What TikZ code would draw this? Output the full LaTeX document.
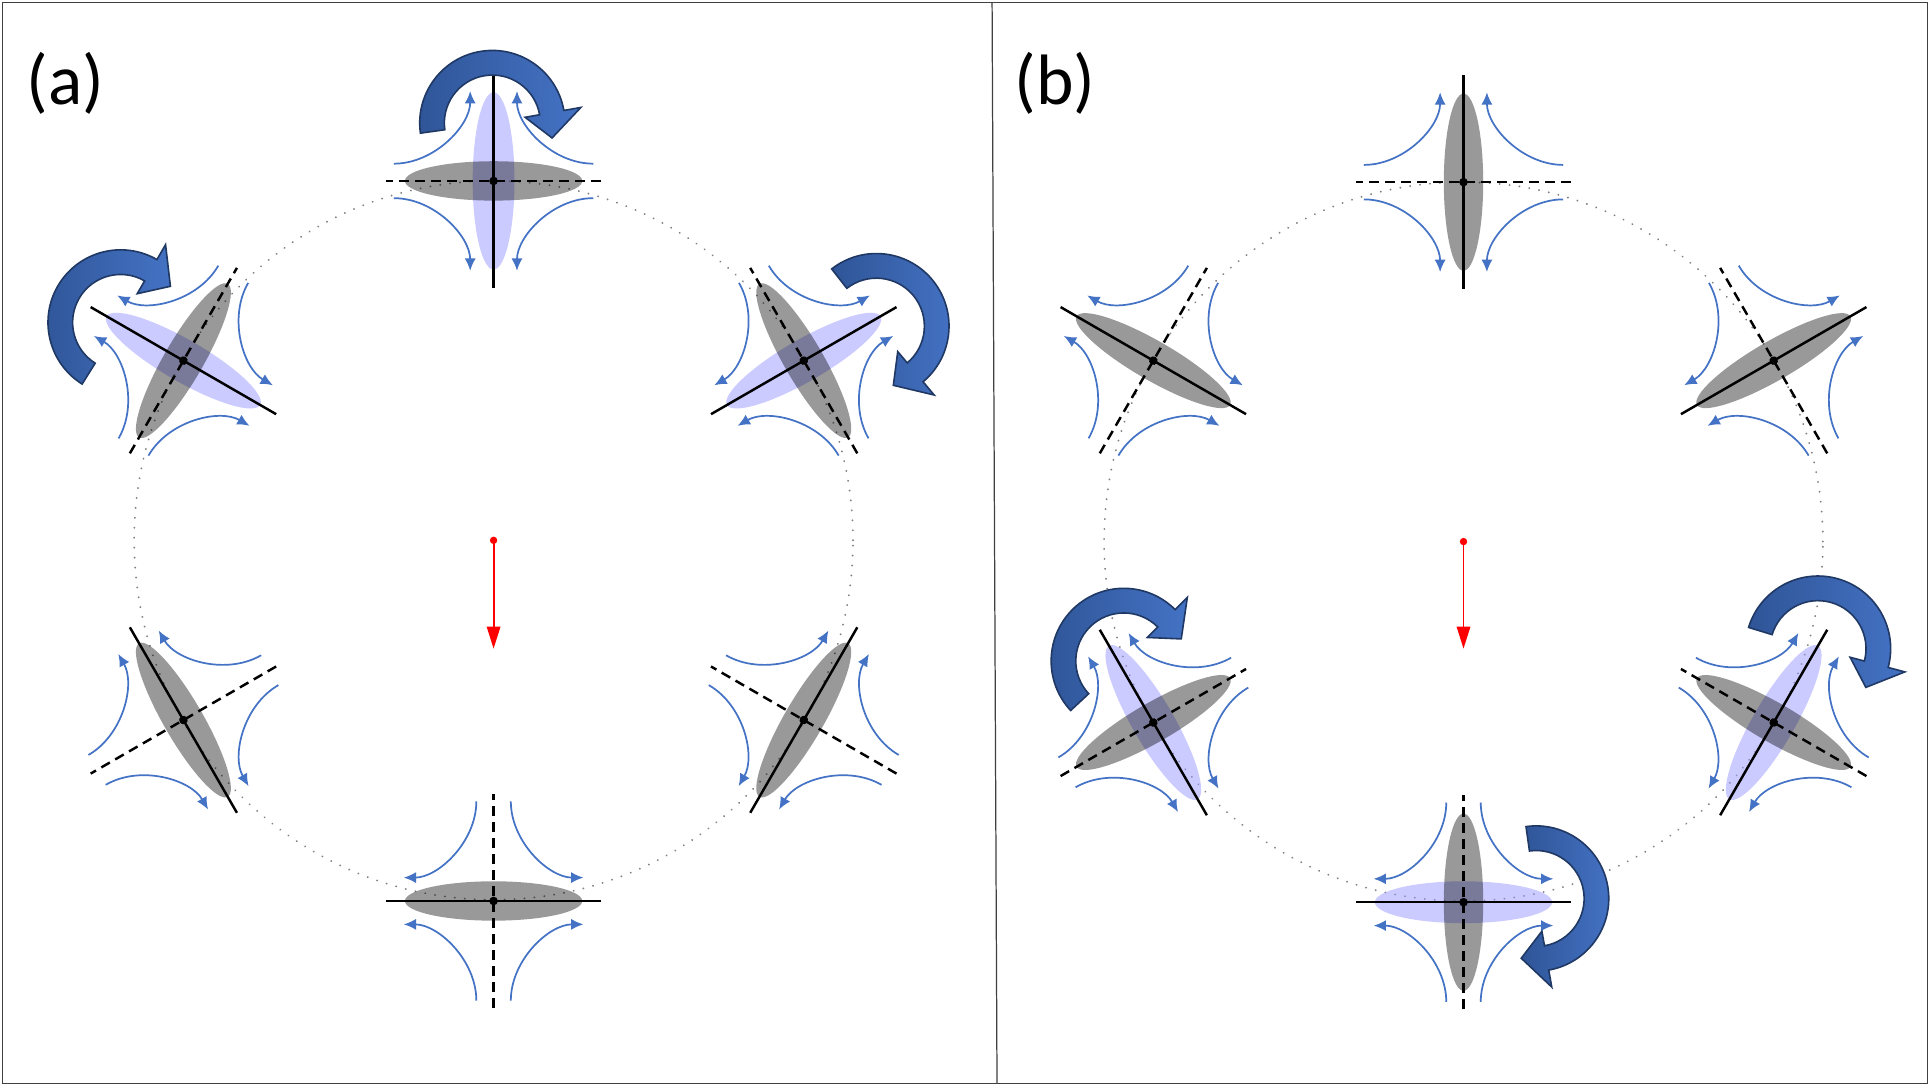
\documentclass[tikz,border=0pt]{standalone}
\usepackage{fontspec}
\setmainfont{Carlito}
\usetikzlibrary{arrows.meta}
\definecolor{flowc}{HTML}{4472C4}
\definecolor{bigd}{HTML}{2F5597}
\definecolor{bigo}{HTML}{1F3864}
\tikzset{
 x=1pt,y=1pt,
 axisline/.style={line width=2pt,black},
 dashline/.style={line width=2pt,black,dash pattern=on 8pt off 5pt},
 flow/.style={line width=1.4pt,flowc,-{Latex[length=10pt,width=9pt]}},
 graye/.style={fill=black,fill opacity=0.4},
 bluee/.style={fill=blue!40,fill opacity=0.5},
 bigarrow/.style={draw=bigo,line width=1.3pt,left color=bigd,right color=flowc},
 ring/.style={gray,line width=1.6pt,dash pattern=on 0.1pt off 8pt,line cap=round},
 redarrow/.style={red,line width=1.5pt,-{Triangle[length=18pt,width=11pt]}},
 lab/.style={font=\fontsize{58}{62}\selectfont}
}
\newcommand\site[6]{%
\begin{scope}[shift={(#1,#2)},rotate=#3]
 \ifnum#5=1 \fill[bluee] (0,0) ellipse[x radius=72,y radius=17];\fi
 \ifnum#4=1 \fill[graye] (0,0) ellipse[x radius=72,y radius=16];\else\fill[graye] (0,0) ellipse[x radius=16,y radius=72];\fi
 \draw[axisline] (-87,0)--(87,0);
 \draw[dashline] (0,-87)--(0,87);
 \foreach \a/\b in {1/1,1/-1,-1/1,-1/-1}
   \draw[flow] (\a*14,\b*81) .. controls (\a*14,\b*48) and (\a*45,\b*19) .. (\a*73,\b*19);
 \fill (0,0) circle (3.5);
 \coordinate (#6) at (0,0);
\end{scope}}
\newcommand\bigarr[3]{%
\begin{scope}[shift={(#1,#2)},rotate=#3]
 \path[bigarrow] (188:59) arc[start angle=188,end angle=10,radius=59] -- (10:73) -- (-14:50) -- (10:27) -- (10:39) arc[start angle=10,end angle=188,radius=39] -- cycle;
\end{scope}}
\begin{document}
\begin{tikzpicture}
\useasboundingbox (0,0) rectangle (1568,882);
\fill[white] (0,0) rectangle (1568,882);
\draw[line width=1pt,black!75] (2,2) rectangle (1566,880);
\draw[line width=1pt,black!75] (806,880) -- (810,2);
% panel a
\draw[ring] (401,443) circle (292);
\site{401}{735}{90}{0}{1}{a1}
\site{149}{589}{-30}{0}{1}{a2}
\site{653}{589}{30}{0}{1}{a3}
\site{149}{297}{120}{1}{0}{a4}
\site{653}{297}{60}{1}{0}{a5}
\site{401}{150}{0}{1}{0}{a6}
\bigarr{400}{782}{0}
\bigarr{98}{620}{50}
\bigarr{712}{617}{-60}
\coordinate (ra) at (401,443);
\coordinate (rae) at (401,355);
\fill[red] (ra) circle (3);
\draw[redarrow] (ra) -- (rae);
\node[lab] (la) at (53,814) {(a)};
% panel b
\draw[ring] (1189,442) circle (292);
\site{1189}{734}{90}{1}{0}{b1}
\site{937}{589}{-30}{1}{0}{b2}
\site{1441}{589}{30}{1}{0}{b3}
\site{937}{295}{-60}{0}{1}{b4}
\site{1441}{295}{60}{0}{1}{b5}
\site{1189}{149}{0}{0}{1}{b6}
\bigarr{913}{345}{35}
\bigarr{1477}{355}{-25}
\bigarr{1248}{152}{-90}
\coordinate (rb) at (1189,442);
\coordinate (rbe) at (1189,355);
\fill[red] (rb) circle (3);
\draw[redarrow] (rb) -- (rbe);
\node[lab] (lb) at (857,814) {(b)};
\end{tikzpicture}
\end{document}
